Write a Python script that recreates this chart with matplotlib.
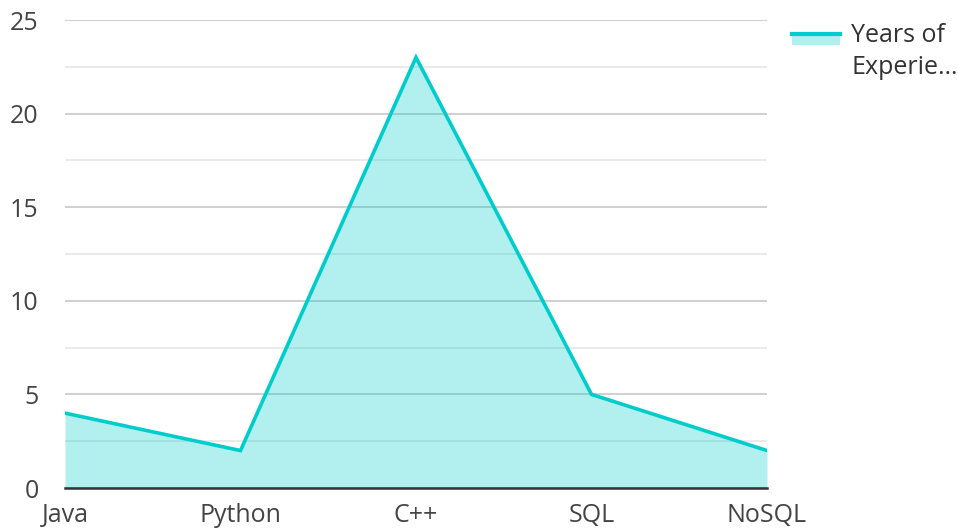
import matplotlib
matplotlib.use("Agg")
import matplotlib.pyplot as plt

plt.rcParams['font.family'] = ['Open Sans', 'DejaVu Sans']

languages = ["Java", "Python", "C++", "SQL", "NoSQL"]
years = [4, 2, 23, 5, 2]
series_name = "Years of Experience"

line_color = "#00cccc"

fig = plt.figure(figsize=(9.58, 5.31), dpi=100)
ax = fig.add_axes([65 / 958, 43 / 531, 702 / 958, 468 / 531])

x = list(range(len(languages)))
ax.fill_between(x, years, 0, color=line_color, alpha=0.3, lw=0, zorder=2)
ax.plot(x, years, color=line_color, lw=2.6, zorder=3, solid_joinstyle='miter')

ax.set_xlim(0, len(languages) - 1)
ax.set_ylim(0, 25)
ax.set_yticks(range(0, 26, 5))
ax.set_yticks([2.5 + 5 * i for i in range(5)], minor=True)
ax.set_xticks(x)
ax.set_xticklabels(languages)

ax.set_axisbelow(True)
ax.grid(axis='y', which='major', color='#c8c8c8', lw=1.2)
ax.grid(axis='y', which='minor', color='#e6e6e6', lw=1.2)

for s in ['top', 'right', 'left']:
    ax.spines[s].set_visible(False)
ax.spines['bottom'].set_color('#333333')
ax.spines['bottom'].set_linewidth(1.8)
ax.spines['bottom'].set_zorder(4)

ax.tick_params(axis='both', which='both', length=0, labelsize=18, colors='#444444')
ax.tick_params(axis='y', pad=19)
ax.tick_params(axis='x', pad=11)

# legend drawn by hand (truncated label)
fig.patches.append(plt.Rectangle((792 / 958, (531 - 45) / 531), 48 / 958, 12 / 531,
                                 transform=fig.transFigure, color=line_color, alpha=0.3, lw=0))
fig.lines.append(plt.Line2D([792 / 958, 840 / 958], [(531 - 34) / 531] * 2,
                            transform=fig.transFigure, color=line_color, lw=3))
fig.text(851 / 958, (531 - 35) / 531, "Years of", fontsize=18, color='#333333', va='center')
fig.text(851 / 958, (531 - 67) / 531, "Experie…", fontsize=18, color='#333333', va='center')

fig.savefig("out.png", dpi=100)
